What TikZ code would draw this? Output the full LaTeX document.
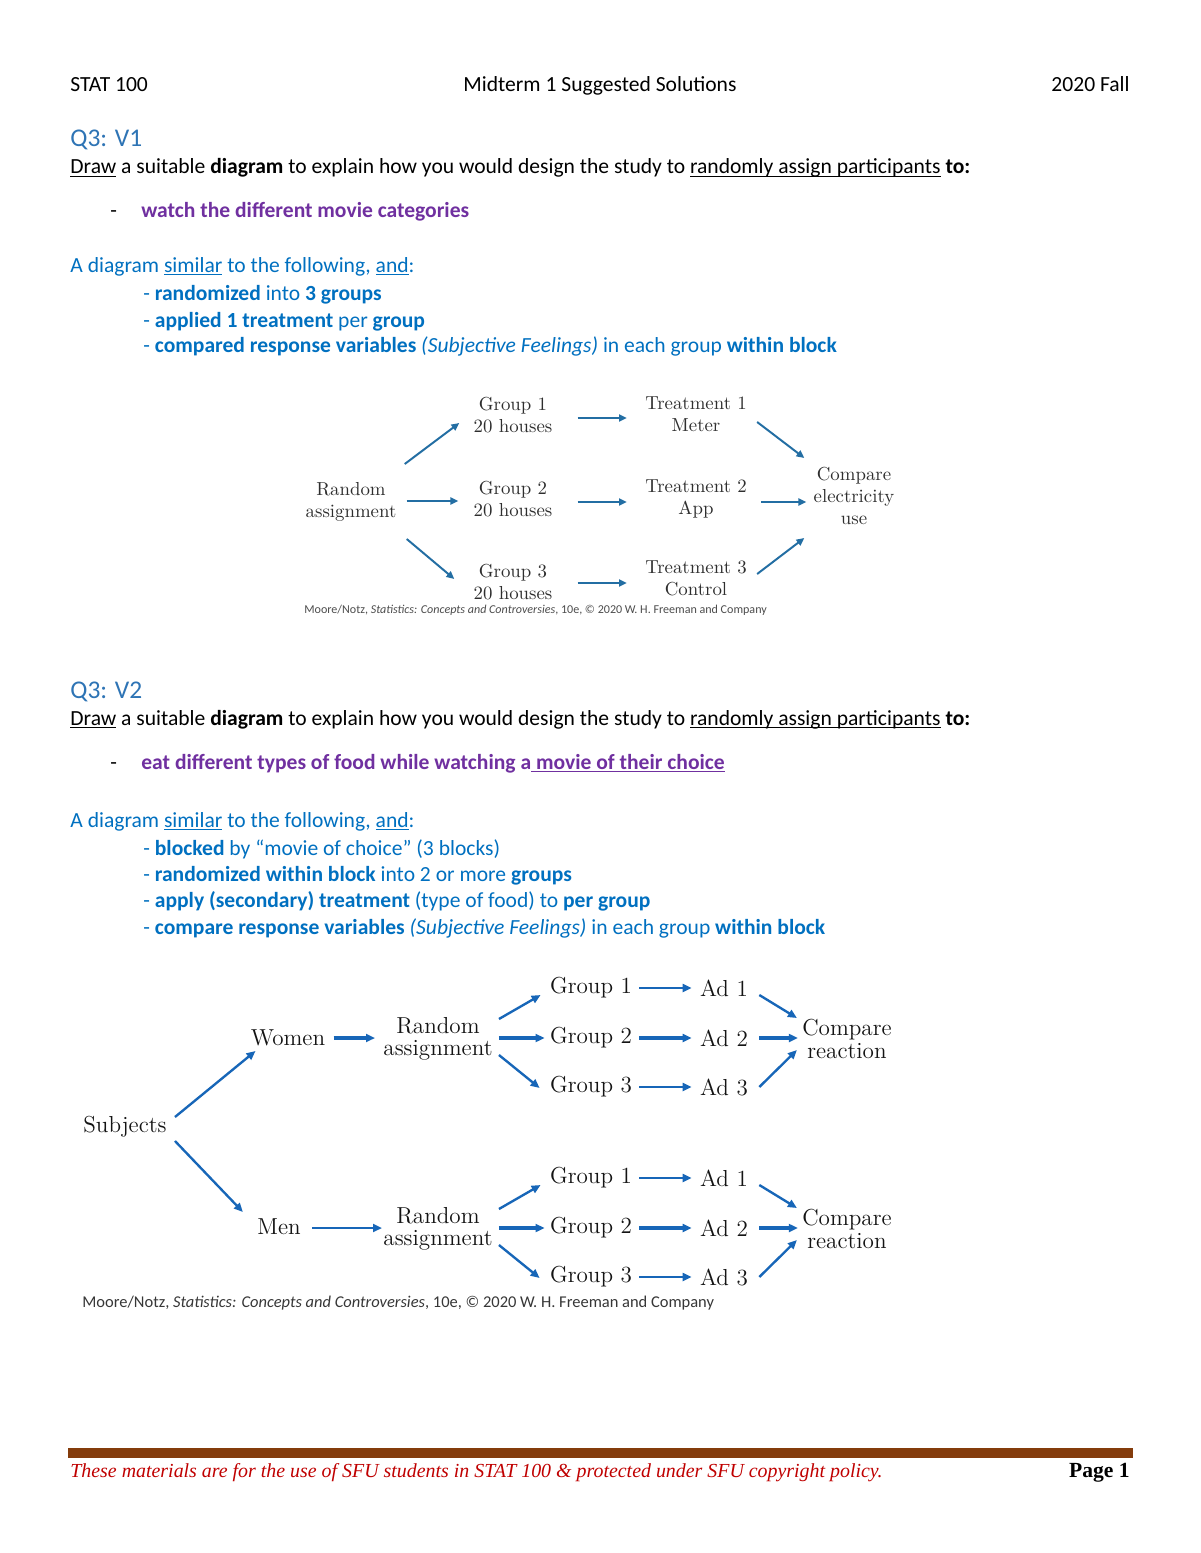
\documentclass[tikz,border=0pt]{standalone}
\usepackage{fontspec}
\newfontfamily\bodyfont{Carlito}
\newfontfamily\footfont{Liberation Serif}
\usetikzlibrary{arrows.meta}
\definecolor{headblue}{HTML}{2E74B5}
\definecolor{noteblue}{HTML}{0070C0}
\definecolor{notepurple}{HTML}{7030A0}
\definecolor{arrowA}{HTML}{236EA3}
\definecolor{arrowB}{HTML}{1766B8}
\definecolor{diagA}{HTML}{2E2E2E}
\definecolor{diagB}{HTML}{141414}
\definecolor{footred}{HTML}{C00000}
\definecolor{rulebrown}{HTML}{843C0C}
\newcommand{\undl}[1]{\underline{\smash{#1}}}
\tikzset{
  txt/.style={anchor=base west, inner sep=0pt, font=\bodyfont\fontsize{11}{13}\selectfont},
  qhead/.style={txt, text=headblue, font=\bodyfont\fontsize{13}{15}\selectfont},
  boxA/.style={inner sep=0pt, align=center, text=diagA, font=\fontsize{9.6}{11.2}\selectfont},
  boxB/.style={inner sep=0pt, align=center, text=diagB, font=\fontsize{11.8}{11.4}\selectfont},
  credA/.style={txt, text=diagA!85, font=\bodyfont\fontsize{6.15}{7}\selectfont},
  credB/.style={txt, text=diagB!85, font=\bodyfont\fontsize{8.4}{9}\selectfont},
  arrA/.style={draw=arrowA, line width=1pt, -{Triangle[length=4pt,width=3.6pt]}},
  arrB/.style={draw=arrowB, line width=1.2pt, -{Triangle[length=4.6pt,width=4pt]}},
  arrBb/.style={arrB, line width=1.6pt}
}
\begin{document}
\begin{tikzpicture}[x=0.51pt, y=-0.51pt]
\fill[white] (0,0) rectangle (1200,1553);
\useasboundingbox (0,0) rectangle (1200,1553);

% header
\node[txt] (hl) at (70,92) {STAT 100};
\node[txt, anchor=base] (hc) at (600,92) {Midterm 1 Suggested Solutions};
\node[txt, anchor=base east] (hr) at (1130,92) {2020 Fall};

% version 1
\node[qhead] (q1) at (70,147) {Q3: V1};
\node[txt] (q1a) at (70,174) {\undl{Draw} a suitable \textbf{diagram} to explain how you would design the study to \undl{randomly assign participants} \textbf{to:}};
\node[txt] (q1d) at (110,218) {-};
\node[txt, text=notepurple] (q1b) at (141,218) {\textbf{watch the different movie categories}};
\node[txt, text=noteblue] (q1c) at (70,272) {A diagram \undl{similar} to the following, \undl{and}:};
\node[txt, text=noteblue] (q1i) at (143,300) {- \textbf{randomized} into \textbf{3 groups}};
\node[txt, text=noteblue] (q1j) at (143,327) {- \textbf{applied 1 treatment} per \textbf{group}};
\node[txt, text=noteblue] (q1k) at (143,352) {- \textbf{compared response variables} \textit{(Subjective Feelings)} in each group \textbf{within block}};

% diagram 1
\node[boxA] (ra) at (351,502) {Random\\assignment};
\node[boxA] (g1) at (513,415) {Group 1\\20 houses};
\node[boxA] (g2) at (513,499) {Group 2\\20 houses};
\node[boxA] (g3) at (513,582) {Group 3\\20 houses};
\node[boxA] (t1) at (696,414) {Treatment 1\\Meter};
\node[boxA] (t2) at (696,499) {Treatment 2\\App};
\node[boxA] (t3) at (696,578) {Treatment 3\\Control};
\node[boxA] (cmp) at (854,496) {Compare\\electricity\\use};
\draw[arrA] ([shift={(8,-38)}]ra.east) -- ([shift={(-14,8)}]g1.west);
\draw[arrA] ([shift={(10,-1)}]ra.east) -- ([shift={(-15,2)}]g2.west);
\draw[arrA] ([shift={(10,37)}]ra.east) -- ([shift={(-19,-3)}]g3.west);
\draw[arrA] ([shift={(25,3)}]g1.east) -- ([shift={(-18,4)}]t1.west);
\draw[arrA] ([shift={(25,3)}]g2.east) -- ([shift={(-18,3)}]t2.west);
\draw[arrA] ([shift={(25,1)}]g3.east) -- ([shift={(-18,5)}]t3.west);
\draw[arrA] ([shift={(10,8)}]t1.east) -- ([shift={(-9,-38)}]cmp.west);
\draw[arrA] ([shift={(14,3)}]t2.east) -- ([shift={(-7,6)}]cmp.west);
\draw[arrA] ([shift={(10,-4)}]t3.east) -- ([shift={(-9,42)}]cmp.west);
\node[credA] (srcA) at (304,613) {Moore/Notz, \textit{Statistics: Concepts and Controversies}, 10e, © 2020 W. H. Freeman and Company};

% version 2
\node[qhead] (q2) at (70,698) {Q3: V2};
\node[txt] (q2a) at (70,725) {\undl{Draw} a suitable \textbf{diagram} to explain how you would design the study to \undl{randomly assign participants} \textbf{to:}};
\node[txt] (q2d) at (110,769) {-};
\node[txt, text=notepurple] (q2b) at (141,769) {\textbf{eat different types of food while watching a\undl{\ movie of their choice}}};
\node[txt, text=noteblue] (q2c) at (70,827) {A diagram \undl{similar} to the following, \undl{and}:};
\node[txt, text=noteblue] (q2i) at (143,855) {- \textbf{blocked} by “movie of choice” (3 blocks)};
\node[txt, text=noteblue] (q2j) at (143,881) {- \textbf{randomized within block} into 2 or more \textbf{groups}};
\node[txt, text=noteblue] (q2k) at (143,907) {- \textbf{apply (secondary) treatment} (type of food) to \textbf{per group}};
\node[txt, text=noteblue] (q2l) at (143,934) {- \textbf{compare response variables} \textit{(Subjective Feelings)} in each group \textbf{within block}};

% diagram 2
\node[boxB] (subj) at (125,1127) {Subjects};
\node[boxB] (women) at (288,1038) {Women};
\node[boxB] (men) at (279,1227) {Men};
\draw[arrB] ([shift={(8,-10)}]subj.east) -- ([shift={(5,13)}]women.west);
\draw[arrB] ([shift={(8,14)}]subj.east) -- ([shift={(-14,-15)}]men.west);
\foreach \blk/\dy in {w/0, m/190} {
  \node[boxB] (r\blk) at (438,1039+\dy) {Random\\assignment};
  \node[boxB] (g\blk1) at (591,988+\dy) {Group 1};
  \node[boxB] (g\blk2) at (591,1038+\dy) {Group 2};
  \node[boxB] (g\blk3) at (591,1087+\dy) {Group 3};
  \node[boxB] (a\blk1) at (724,988+\dy) {Ad 1};
  \node[boxB] (a\blk2) at (724,1038+\dy) {Ad 2};
  \node[boxB] (a\blk3) at (724,1087+\dy) {Ad 3};
  \node[boxB] (c\blk) at (847,1039+\dy) {Compare\\reaction};
  \draw[arrB] ([shift={(6,-20)}]r\blk.east) -- ([shift={(-9,7)}]g\blk1.west);
  \draw[arrBb] ([shift={(6,-1)}]r\blk.east) -- ([shift={(-5,0)}]g\blk2.west);
  \draw[arrB] ([shift={(6,16)}]r\blk.east) -- ([shift={(-10,1)}]g\blk3.west);
  \draw[arrB] ([shift={(7,0)}]g\blk1.east) -- ([shift={(-8,0)}]a\blk1.west);
  \draw[arrBb] ([shift={(7,0)}]g\blk2.east) -- ([shift={(-8,0)}]a\blk2.west);
  \draw[arrB] ([shift={(7,0)}]g\blk3.east) -- ([shift={(-8,0)}]a\blk3.west);
  \draw[arrB] ([shift={(11,7)}]a\blk1.east) -- ([shift={(-5,-21)}]c\blk.west);
  \draw[arrBb] ([shift={(11,0)}]a\blk2.east) -- ([shift={(-4,-1)}]c\blk.west);
  \draw[arrB] ([shift={(11,0)}]a\blk3.east) -- ([shift={(-5,11)}]c\blk.west);
}
\draw[arrBb] ([shift={(8,0)}]women.east) -- ([shift={(-8,-1)}]rw.west);
\draw[arrB] ([shift={(11,1)}]men.east) -- ([shift={(-1,-1)}]rm.west);
\node[credB] (srcB) at (82,1307) {Moore/Notz, \textit{Statistics: Concepts and Controversies}, 10e, © 2020 W. H. Freeman and Company};

% footer
\fill[rulebrown] (68,1448) rectangle (1133,1458);
\node[txt, text=footred, font=\footfont\itshape\fontsize{10.15}{12}\selectfont] (ft) at (70,1477) {These materials are for the use of SFU students in STAT 100 \& protected under SFU copyright policy.};
\node[txt, anchor=base east, font=\footfont\bfseries\fontsize{11}{13}\selectfont] (pg) at (1130,1477) {Page 1};
\end{tikzpicture}
\end{document}
